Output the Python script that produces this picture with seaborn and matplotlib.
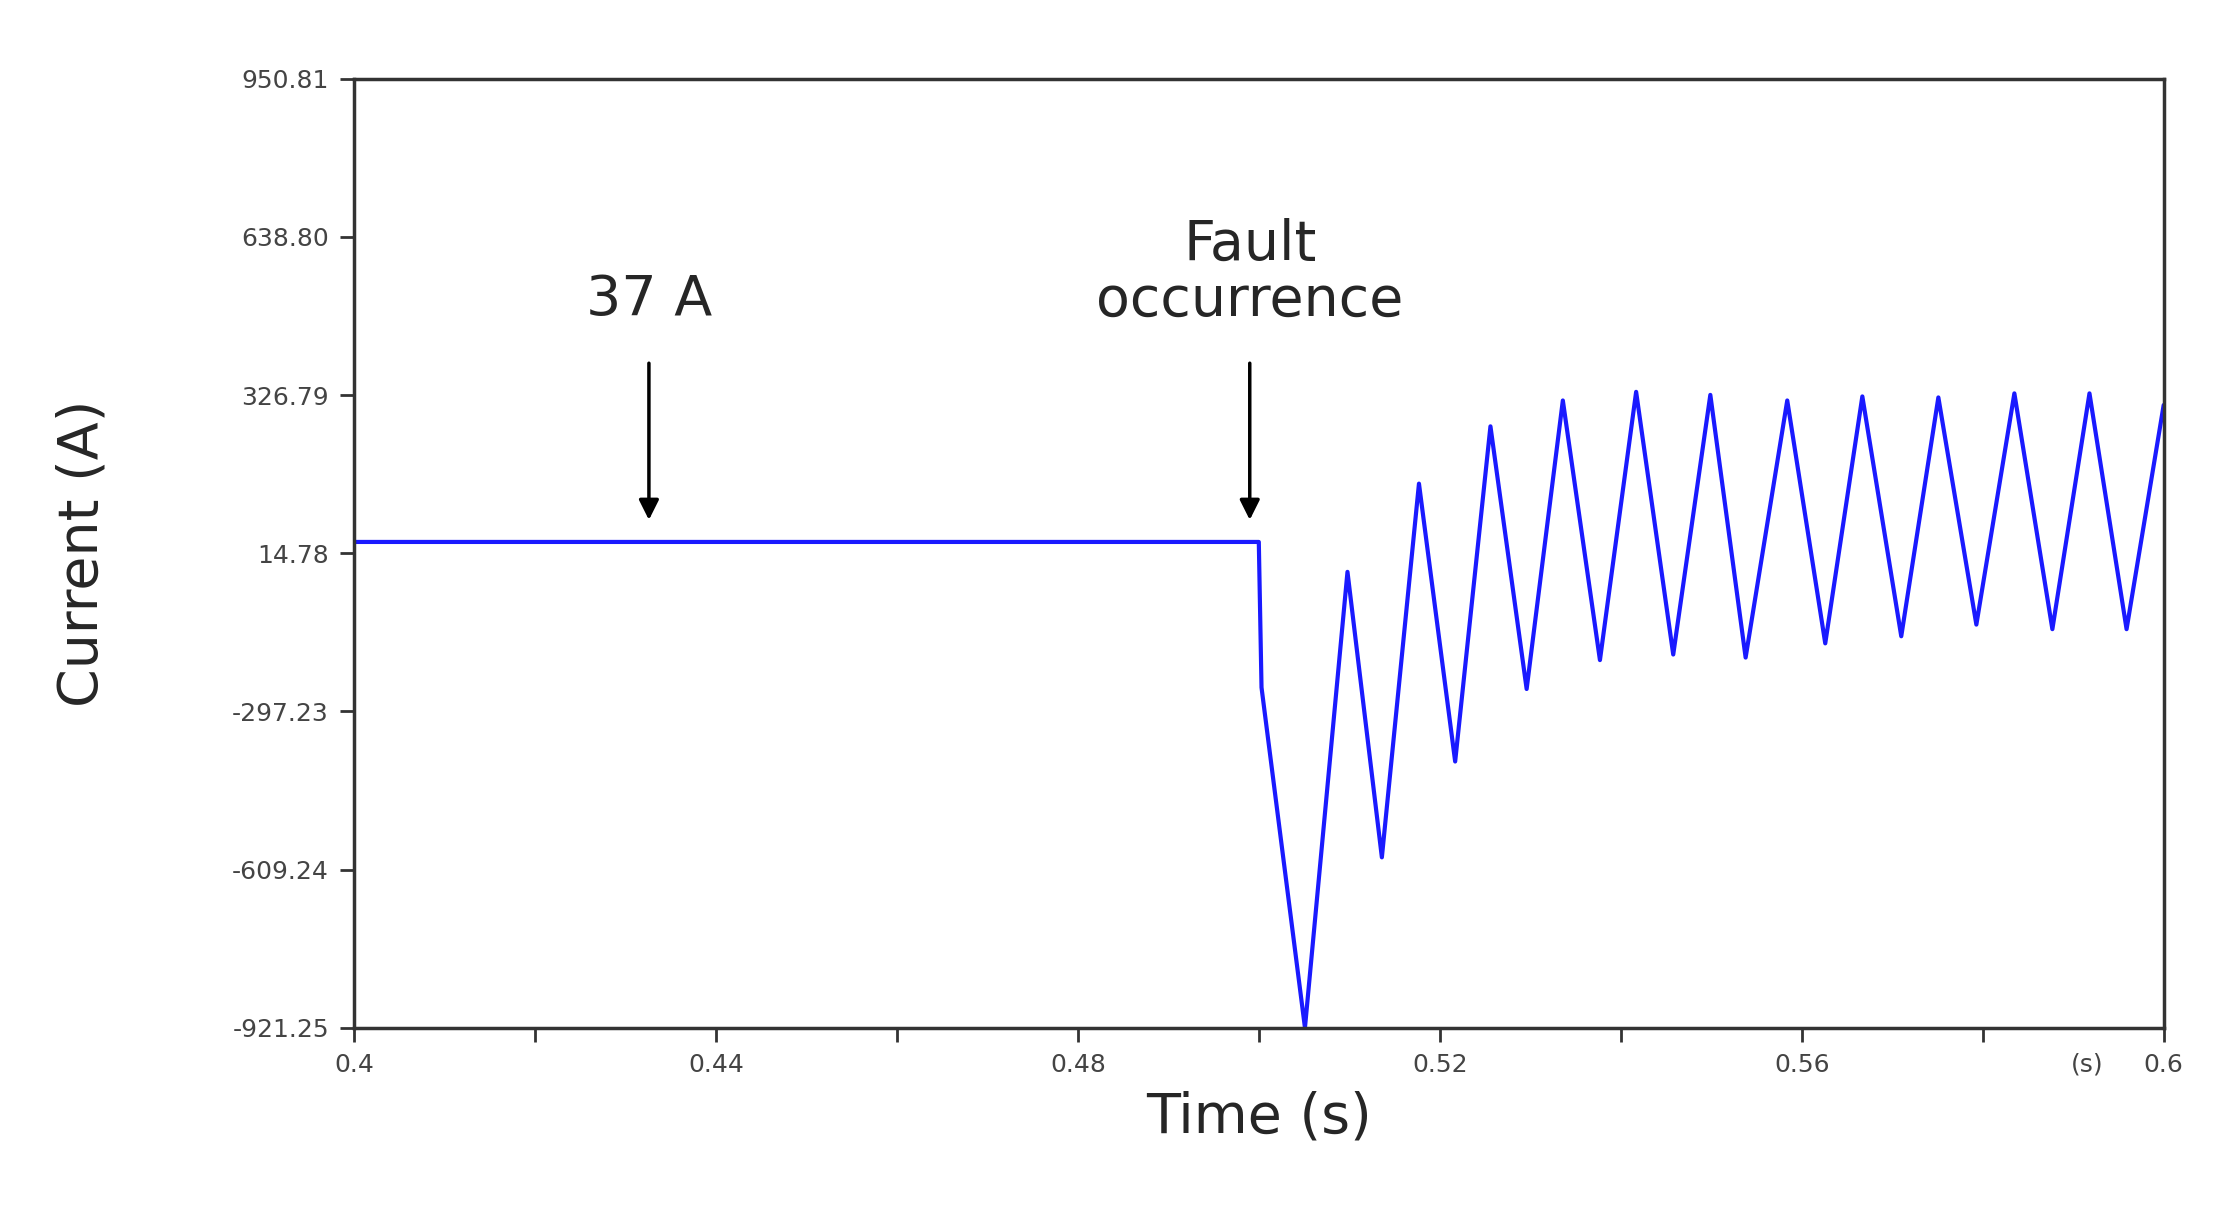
import numpy as np
import pandas as pd
import matplotlib.pyplot as plt
import seaborn as sns

# waveform: steady 37 A, then the fault transient (peaks / troughs)
time_s = [0.4, 0.5, 0.5003, 0.5051, 0.5098, 0.5136, 0.5177, 0.5217, 0.5256, 0.5296,
          0.5336, 0.5377, 0.5417, 0.5458, 0.5499, 0.5538, 0.5584, 0.5626, 0.5667,
          0.5710, 0.5751, 0.5793, 0.5835, 0.5877, 0.5918, 0.5959, 0.6]
current_a = [37, 37, -250, -921, -22, -585, 152, -396, 265, -253,
             316, -196, 333, -185, 327, -191, 316, -163, 324,
             -149, 322, -126, 330, -135, 330, -135, 307]

y_ticks = [950.81, 638.80, 326.79, 14.78, -297.23, -609.24, -921.25]
x_ticks = [0.4, 0.42, 0.44, 0.46, 0.48, 0.50, 0.52, 0.54, 0.56, 0.58, 0.6]
x_labels = ['0.4', '', '0.44', '', '0.48', '', '0.52', '', '0.56', '', '0.6']

df = pd.DataFrame({'t': time_s, 'i': current_a})

sns.set_style('white')
plt.rcParams['font.family'] = ['DejaVu Sans']

fig = plt.figure(figsize=(22.26, 12.28), dpi=100)
ax = fig.add_axes([0.159, 0.163, 0.813, 0.773])

sns.lineplot(data=df, x='t', y='i', ax=ax, color='#1a1aff', linewidth=3, sort=False)

ax.set_xlim(0.4, 0.6)
ax.set_ylim(-921.25, 950.81)
ax.set_yticks(y_ticks)
ax.set_yticklabels(['%.2f' % v for v in y_ticks], fontsize=18, color='#444444')
ax.set_xticks(x_ticks)
ax.set_xticklabels(x_labels, fontsize=18, color='#444444')
ax.tick_params(axis='both', direction='out', length=10, width=2, color='#333333',
               bottom=True, left=True, pad=8)
ax.text(0.5915, -970, '(s)', fontsize=18, color='#444444', ha='center', va='top')

for s in ax.spines.values():
    s.set_color('#333333')
    s.set_linewidth(2.5)

ax.set_xlabel('Time (s)', fontsize=40, labelpad=10)
ax.set_ylabel('Current (A)', fontsize=40)
ax.yaxis.set_label_coords(-0.135, 0.5)

# annotations
arrow = dict(arrowstyle='-|>', color='black', lw=2.5, mutation_scale=30)
ax.annotate('', xy=(0.4326, 75), xytext=(0.4326, 395), arrowprops=arrow)
ax.text(0.4326, 460, '37 A', fontsize=40, ha='center', va='bottom')
ax.annotate('', xy=(0.499, 75), xytext=(0.499, 395), arrowprops=arrow)
ax.text(0.499, 460, 'Fault\noccurrence', fontsize=40, ha='center', va='bottom',
        linespacing=1.05)

fig.savefig('out.png', dpi=100)
